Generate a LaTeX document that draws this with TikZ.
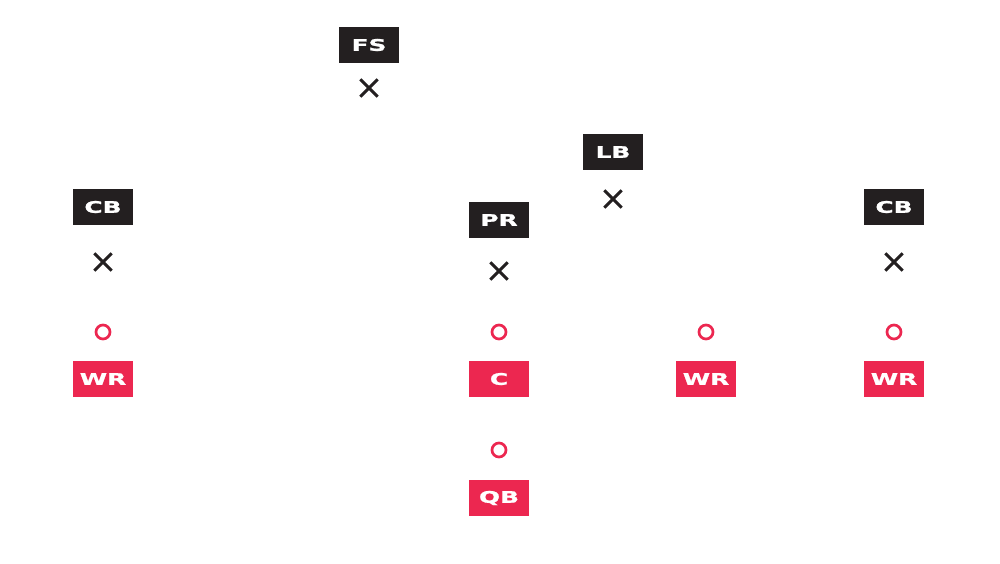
\documentclass[tikz,border=0pt]{standalone}
\usepackage{fontspec}
\setmainfont{DejaVu Sans}[FakeStretch=1.55,BoldFont={DejaVu Sans Bold},BoldFeatures={FakeStretch=1.55,FakeBold=1.3}]
\usetikzlibrary{shapes.misc}
\definecolor{ink}{RGB}{35,31,32}
\definecolor{hot}{RGB}{236,39,80}
\tikzset{
  tag/.style={inner sep=0pt,outer sep=0pt,minimum width=60pt,minimum height=36pt,text=white,font=\bfseries\fontsize{16}{18}\selectfont},
  deftag/.style={tag,fill=ink},
  offtag/.style={tag,fill=hot},
  defmark/.style={cross out,draw=ink,line width=2.9pt,minimum size=14.5pt,inner sep=0pt},
  offmark/.style={circle,draw=hot,line width=2.7pt,minimum size=14pt,inner sep=0pt}
}
\begin{document}
\begin{tikzpicture}[x=1pt,y=-1pt]
\path[use as bounding box,fill=white] (0,0) rectangle (1000,563);
% defence
\node[deftag] (fs) at (369,45) {FS};
\node[defmark] (fsx) at (369,88) {};
\node[deftag] (lb) at (613,152) {LB};
\node[defmark] (lbx) at (613,199) {};
\node[deftag] (cbl) at (103,207) {CB};
\node[defmark] (cblx) at (103,262) {};
\node[deftag] (pr) at (499,220) {PR};
\node[defmark] (prx) at (499,271) {};
\node[deftag] (cbr) at (894,207) {CB};
\node[defmark] (cbrx) at (894,262) {};
% offence
\node[offmark] (wrlo) at (103,332) {};
\node[offtag] (wrl) at (103,379) {WR};
\node[offmark] (co) at (499,332) {};
\node[offtag] (c) at (499,379) {C};
\node[offmark] (wrmo) at (706,332) {};
\node[offtag] (wrm) at (706,379) {WR};
\node[offmark] (wrro) at (894,332) {};
\node[offtag] (wrr) at (894,379) {WR};
\node[offmark] (qbo) at (499,450) {};
\node[offtag] (qb) at (499,498) {QB};
\end{tikzpicture}
\end{document}
